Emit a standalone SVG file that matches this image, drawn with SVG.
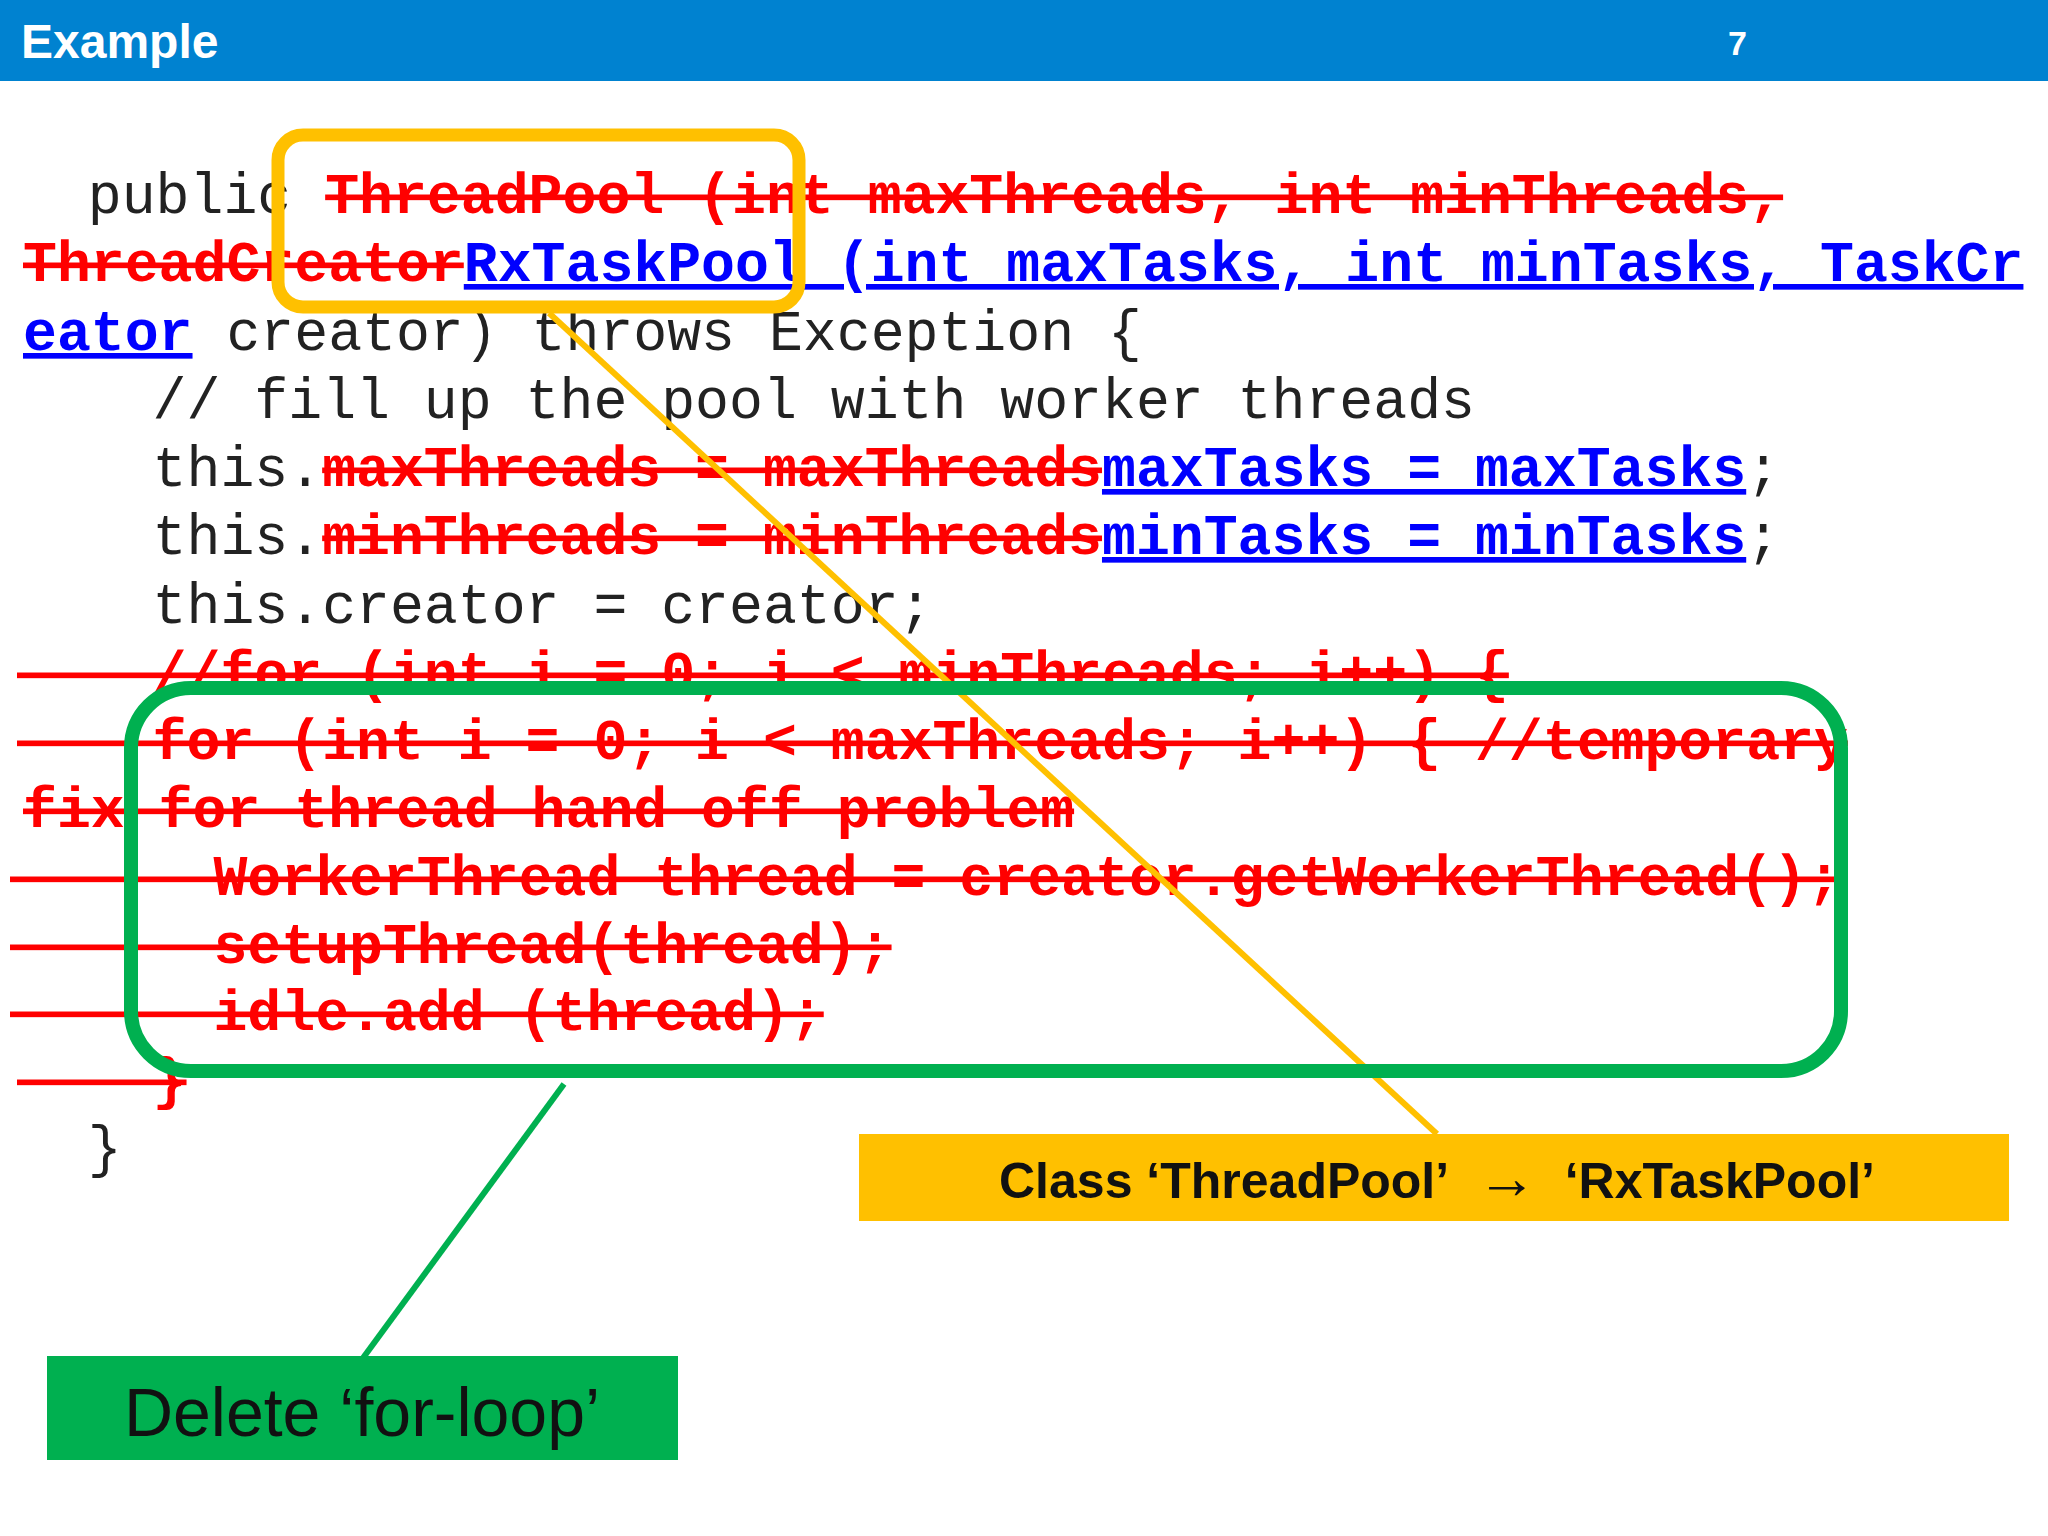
<svg xmlns="http://www.w3.org/2000/svg" width="2048" height="1536" viewBox="0 0 2048 1536">
<style>
.code{font-family:"Liberation Mono",monospace;font-size:56.5px;fill:#222}
.del{fill:#FF0000;font-weight:bold;text-decoration:line-through}
.ins{fill:#0000FF;font-weight:bold;text-decoration:underline}
.hl{fill:none;stroke-linejoin:round}
</style>
<rect width="2048" height="1536" fill="#fff"/>
<g id="header">
<rect x="0" y="0" width="2048" height="81" fill="#0082D0"/>
<text x="21" y="58" font-family="Liberation Sans,Arial,sans-serif" font-weight="bold" font-size="48" fill="#fff">Example</text>
<text x="1728" y="55" font-family="Liberation Sans,Arial,sans-serif" font-weight="bold" font-size="34" fill="#fff">7</text>
</g>
<g id="code" class="code">
<text x="20" y="213">&#160;&#160;public <tspan class="del">ThreadPool (int maxThreads, int minThreads,</tspan></text>
<text x="23" y="281"><tspan class="del">ThreadCreator</tspan><tspan class="ins">RxTaskPool (int maxTasks, int minTasks, TaskCr</tspan></text>
<text x="23" y="350"><tspan class="ins">eator</tspan> creator) throws Exception {</text>
<text x="17" y="418">&#160;&#160;&#160;&#160;// fill up the pool with worker threads</text>
<text x="17" y="486">&#160;&#160;&#160;&#160;this.<tspan class="del">maxThreads = maxThreads</tspan><tspan class="ins">maxTasks = maxTasks</tspan>;</text>
<text x="17" y="554">&#160;&#160;&#160;&#160;this.<tspan class="del">minThreads = minThreads</tspan><tspan class="ins">minTasks = minTasks</tspan>;</text>
<text x="17" y="623">&#160;&#160;&#160;&#160;this.creator = creator;</text>
<text x="17" y="691"><tspan class="del">&#160;&#160;&#160;&#160;//for (int i = 0; i &lt; minThreads; i++) {</tspan></text>
<text x="17" y="759"><tspan class="del">&#160;&#160;&#160;&#160;for (int i = 0; i &lt; maxThreads; i++) { //temporary</tspan></text>
<text x="23" y="827"><tspan class="del">fix for thread hand off problem</tspan></text>
<text x="10" y="895"><tspan class="del">&#160;&#160;&#160;&#160;&#160;&#160;WorkerThread thread = creator.getWorkerThread();</tspan></text>
<text x="10" y="963"><tspan class="del">&#160;&#160;&#160;&#160;&#160;&#160;setupThread(thread);</tspan></text>
<text x="10" y="1030"><tspan class="del">&#160;&#160;&#160;&#160;&#160;&#160;idle.add (thread);</tspan></text>
<text x="17" y="1098"><tspan class="del">&#160;&#160;&#160;&#160;}</tspan></text>
<text x="20" y="1166">&#160;&#160;}</text>
</g>
<g id="connectors">
<line x1="549" y1="313" x2="1437" y2="1134" stroke="#FFC000" stroke-width="6"/>
<line x1="564" y1="1084" x2="363" y2="1358" stroke="#00B050" stroke-width="6"/>
</g>
<g id="yellow-highlight"><rect class="hl" x="278" y="135" width="521" height="172" rx="25" stroke="#FFC000" stroke-width="13"/></g>
<g id="green-highlight"><rect class="hl" x="131" y="688" width="1710" height="383" rx="60" stroke="#00B050" stroke-width="14"/></g>
<g id="rename-label">
<rect x="859" y="1134" width="1150" height="87" fill="#FFC000"/>
<text x="1437" y="1198" text-anchor="middle" font-family="Liberation Sans,Arial,sans-serif" font-weight="bold" font-size="50" fill="#111">Class ‘ThreadPool’&#160;&#160;<tspan font-size="60">→</tspan>&#160;&#160;‘RxTaskPool’</text>
</g>
<g id="delete-label">
<rect x="47" y="1356" width="631" height="104" fill="#00B050"/>
<text x="362" y="1436" text-anchor="middle" font-family="Liberation Sans,Arial,sans-serif" font-size="68" fill="#111">Delete ‘for-loop’</text>
</g>
</svg>
